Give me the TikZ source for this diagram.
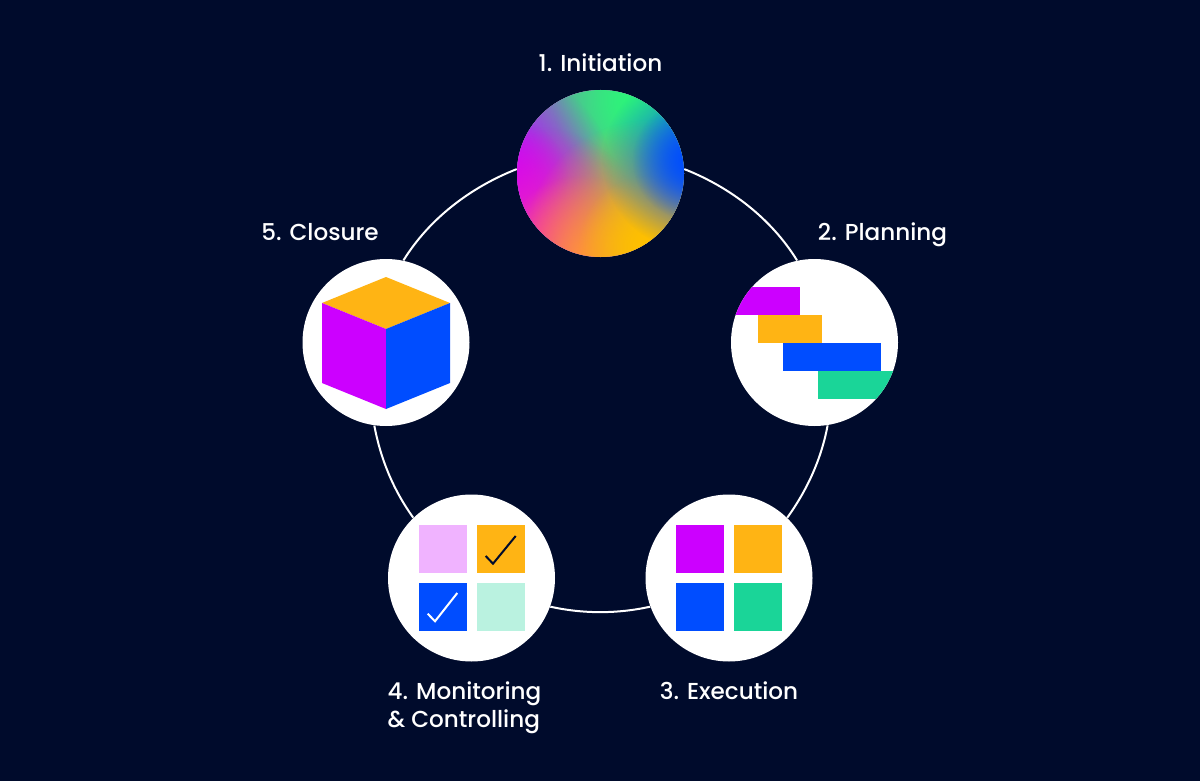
\documentclass[tikz,border=0pt]{standalone}
\usepackage{fontspec}
\usepackage{tikz}
\usetikzlibrary{fadings}
\setmainfont{Poppins Medium}
\definecolor{ink}{HTML}{000B2C}
\definecolor{violetc}{HTML}{CC00FF}
\definecolor{amberc}{HTML}{FFB414}
\definecolor{bluec}{HTML}{004DFF}
\definecolor{greenc}{HTML}{1AD598}
\definecolor{palev}{HTML}{F0B3FF}
\definecolor{paleg}{HTML}{BAF2E0}
\definecolor{mauve}{HTML}{A0709A}
\definecolor{purplec}{HTML}{A030F0}
\definecolor{pinkc}{HTML}{F020C0}
\definecolor{salmon}{HTML}{FF6A70}
\definecolor{yellowc}{HTML}{FFC000}
\definecolor{mintc}{HTML}{2CF57A}
\tikzfading[name=blob, inner color=transparent!0, outer color=transparent!100]
\tikzset{
  stage/.style={circle, fill=white, minimum size=83.5pt, inner sep=0pt},
  title/.style={text=white, font=\fontsize{11.55}{14}\selectfont, inner sep=0pt},
  oneline/.style={title, text height=9pt, text depth=3pt},
  tile/.style={minimum size=24pt, inner sep=0pt},
  bar/.style={minimum height=14pt, inner sep=0pt},
  tick/.style={line width=1pt},
  ring/.style={draw=white, line width=1pt}
}
\begin{document}
\begin{tikzpicture}[x=0.5pt, y=-0.5pt, node distance=54pt]
\fill[ink] (0,0) rectangle (1200,781);
\useasboundingbox (0,0) rectangle (1200,781);

% stages
\node[stage]              (ini) at (600.5,173.5) {};
\node[stage]              (pla) at (814.5,342.5) {};
\node[stage]              (exe) at (729,578) {};
\node[stage]              (mon) at (471.5,578) {};
\node[stage]              (clo) at (386,342.5) {};

% ring
\path[ring]
(ini.3)   edge [out=-21.5, in=121.7, looseness=0.87] (pla.102)
(pla.-81) edge [out=-100.6, in=54.3, looseness=0.87] (exe.46)
(exe.200) edge [out=-167.6, in=-12.4, looseness=0.87] (mon.-20)
(mon.134) edge [out=125.7, in=280.6, looseness=0.87] (clo.262)
(clo.78)  edge [out=58.3, in=201.5, looseness=0.87] (ini.177);

% gradient ball
\begin{scope}
\clip (600.5,173.5) circle (83.5);
\fill[mauve] (500,80) rectangle (700,270);
\fill[purplec, path fading=blob] (535,125) circle (120);
\fill[mintc, path fading=blob] (642,100) circle (180);
\fill[mintc, path fading=blob] (642,100) circle (90);
\fill[violetc, path fading=blob] (508,178) circle (105);
\fill[violetc, path fading=blob] (508,178) circle (60);
\fill[pinkc, path fading=blob] (540,232) circle (105);
\fill[salmon, path fading=blob] (580,255) circle (80);
\fill[yellowc, path fading=blob] (648,245) circle (125);
\fill[yellowc, path fading=blob] (648,245) circle (70);
\fill[bluec, path fading=blob] (692,160) circle (90);
\fill[bluec, path fading=blob] (692,160) circle (60);
\end{scope}

% planning bars
\begin{scope}
\clip (814.5,342.5) circle (83.5);
\node[bar, fill=violetc, minimum width=40pt] (b1) at (759.5,301) {};
\node[bar, fill=amberc, minimum width=32pt]  (b2) at (789.5,329) {};
\node[bar, fill=bluec, minimum width=49pt]   (b3) at (832,357) {};
\node[bar, fill=greenc, minimum width=40pt]  (b4) at (858,385) {};
\end{scope}

% tiles
\begin{scope}[node distance=29pt]
\node[tile, fill=violetc]         (e1) at (700,549) {};
\node[tile, fill=amberc, right of=e1] (e2) {};
\node[tile, fill=bluec, below of=e1]  (e3) {};
\node[tile, fill=greenc, right of=e3] (e4) {};
\node[tile, fill=palev]           (m1) at (443,549) {};
\node[tile, fill=amberc, right of=m1] (m2) {};
\node[tile, fill=bluec, below of=m1]  (m3) {};
\node[tile, fill=paleg, right of=m3]  (m4) {};
\end{scope}
\draw[tick, ink] (485.7,556) -- (493,563.7) -- (515.7,536);
\draw[tick, white] (427.7,613.7) -- (435,621.3) -- (457.3,593);

% cube
\fill[amberc] (386,277) -- (450,303) -- (386,329) -- (322,303) -- cycle;
\fill[violetc] (322,303) -- (386,329) -- (386,409) -- (322,383) -- cycle;
\fill[bluec] (450,303) -- (386,329) -- (386,409) -- (450,383) -- cycle;

% titles
\node[oneline, above of=ini]                       (t1) {1. Initiation};
\node[oneline, above of=pla, xshift=34pt]          (t2) {2. Planning};
\node[oneline, below of=exe, node distance=57.75pt] (t3) {3. Execution};
\node[title, below of=mon, node distance=65pt, xshift=-3.5pt, align=left] (t4) {4. Monitoring\\\& Controlling};
\node[oneline, above of=clo, xshift=-33pt]         (t5) {5. Closure};
\end{tikzpicture}
\end{document}
